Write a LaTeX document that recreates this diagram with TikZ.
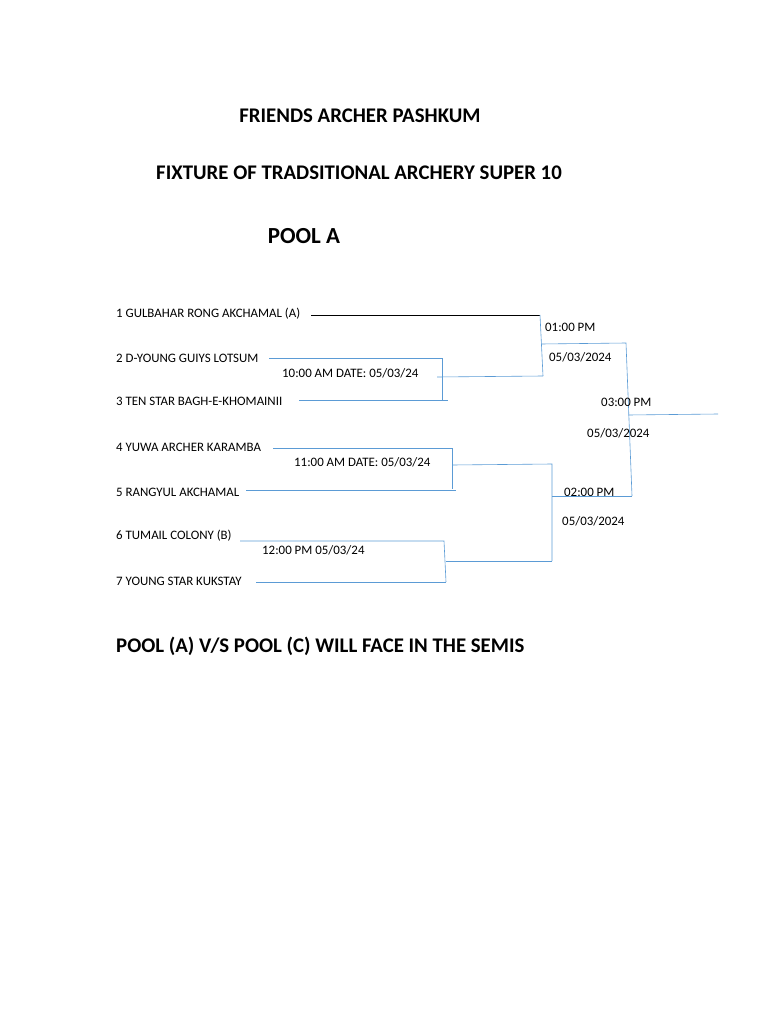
\documentclass[tikz,border=0pt]{standalone}
\usepackage{fontspec}
\setmainfont{Carlito}
\definecolor{ln}{RGB}{91,155,213}
\begin{document}
\begin{tikzpicture}[x=1pt,y=-1pt,
 team/.style={anchor=west,inner sep=0,font=\fontsize{12.9}{14}\selectfont},
 lbl/.style={anchor=west,inner sep=0,font=\fontsize{12.9}{14}\selectfont},
 br/.style={draw=ln,line width=0.6pt}]
\useasboundingbox (0,0) rectangle (768,1024);
\node[inner sep=0,font=\fontsize{20.8}{24}\bfseries\selectfont] (t1) at (360,116) {FRIENDS ARCHER PASHKUM};
\node[inner sep=0,font=\fontsize{20.8}{24}\bfseries\selectfont] (t2) at (359,173) {FIXTURE OF TRADSITIONAL ARCHERY SUPER 10};
\node[inner sep=0,font=\fontsize{23}{26}\bfseries\selectfont] (t3) at (304,236) {POOL A};
\node[team] (a1) at (116,314) {1 GULBAHAR RONG AKCHAMAL (A)};
\node[team] (a2) at (116,358) {2 D-YOUNG GUIYS LOTSUM};
\node[team] (a3) at (116,401) {3 TEN STAR BAGH-E-KHOMAINII};
\node[team] (a4) at (116,447) {4 YUWA ARCHER KARAMBA};
\node[team] (a5) at (116,492) {5 RANGYUL AKCHAMAL};
\node[team] (a6) at (116,536) {6 TUMAIL COLONY (B)};
\node[team] (a7) at (116,581) {7 YOUNG STAR KUKSTAY};
\coordinate (e1) at (540,315);
\coordinate (e2) at (442,358);
\coordinate (e3) at (448,400);
\coordinate (e4) at (452,448);
\coordinate (e5) at (456,490);
\coordinate (e6) at (444,541);
\coordinate (e7) at (446,582);
\draw[line width=0.6pt] (311,315) -- (e1);
\draw[br] (269,358) -- (e2) -- (442,400);
\draw[br] (299,400) -- (e3);
\draw[br] (437,377) -- (543,376);
\draw[br] (e1) -- (543,376);
\draw[br] (273,448) -- (e4) -- (452,489);
\draw[br] (246,490) -- (e5);
\draw[br] (452,465) -- (552,464) -- (552,561);
\draw[br] (240,541) -- (e6) -- (446,582);
\draw[br] (256,582) -- (e7);
\draw[br] (446,561) -- (552,561);
\draw[br] (541,344) -- (626,343) -- (632,496);
\draw[br] (552,496) -- (632,496);
\draw[br] (628,415) -- (718,414);
\node[lbl] (m1) at (282,373) {10:00 AM DATE: 05/03/24};
\node[lbl] (m2) at (294,462) {11:00 AM DATE: 05/03/24};
\node[lbl] (m3) at (262,550) {12:00 PM 05/03/24};
\node[lbl] (s1) at (545,327) {01:00 PM};
\node[lbl] (s1d) at (549,357) {05/03/2024};
\node[lbl] (s2) at (564,492) {02:00 PM};
\node[lbl] (s2d) at (562,521) {05/03/2024};
\node[lbl] (f1) at (601,402) {03:00 PM};
\node[lbl] (f1d) at (587,433) {05/03/2024};
\node[anchor=west,inner sep=0,font=\fontsize{20.8}{24}\bfseries\selectfont] (ft) at (116,646) {POOL (A) V/S POOL (C) WILL FACE IN THE SEMIS};
\end{tikzpicture}
\end{document}
